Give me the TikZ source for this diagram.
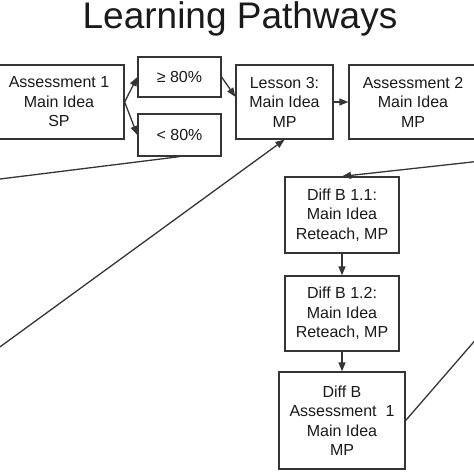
\documentclass[tikz,border=0pt]{standalone}
\usepackage{fontspec}
\setmainfont{Liberation Sans}
\usetikzlibrary{arrows.meta}
\definecolor{linegray}{HTML}{353535}
\definecolor{textgray}{HTML}{1A1A1A}
\begin{document}
\begin{tikzpicture}[x=1pt,y=-1pt,
  box/.style={draw=linegray, line width=1.3pt, fill=white, align=center, inner sep=0pt,
    text=textgray, font=\fontsize{16}{19.5}\selectfont},
  conn/.style={draw=linegray, line width=1.3pt},
  arr/.style={conn, -{Triangle[length=9pt,width=7pt]}}]
\useasboundingbox (0,0) rectangle (474,474);
\node[text=textgray, font=\fontsize{37}{40}\selectfont, anchor=base] (title) at (240,28) {Learning Pathways};
\node[box, minimum width=130pt, minimum height=74pt] (a1) at (59,102) {Assessment 1\\Main Idea\\SP};
\node[box, minimum width=83pt, minimum height=40pt] (ge) at (179.5,77) {≥ 80\%};
\node[box, minimum width=83pt, minimum height=42pt] (lt) at (179.5,135) {< 80\%};
\node[box, minimum width=97pt, minimum height=74pt] (l3) at (284.5,102) {Lesson 3:\\Main Idea\\MP};
\node[box, minimum width=128pt, minimum height=74pt] (a2) at (413,102) {Assessment 2\\Main Idea\\MP};
\node[box, minimum width=114pt, minimum height=76pt] (d11) at (342,215) {Diff B 1.1:\\Main Idea\\Reteach, MP};
\node[box, minimum width=114pt, minimum height=75pt] (d12) at (342,313.5) {Diff B 1.2:\\Main Idea\\Reteach, MP};
\node[box, minimum width=126pt, minimum height=97pt] (da) at (342,420.5) {Diff B\\Assessment~~1\\Main Idea\\MP};
\coordinate (offL1) at (-40,184);
\coordinate (offL2) at (-40,376);
\coordinate (offR1) at (514,157.4);
\coordinate (offR2) at (514,295.5);
\draw[arr] (a1.east) -- (ge.west);
\draw[arr] (a1.east) -- (lt.west);
\draw[arr] (ge.east) -- (l3.174);
\draw[arr] (l3.east) -- (a2.west);
\draw[conn] (lt.south) -- (offL1);
\draw[arr] (offL2) -- (l3.south);
\draw[arr] (offR1) -- (d11.north);
\draw[arr] (d11.south) -- (d12.north);
\draw[arr] (d12.south) -- (da.north);
\draw[conn] (da.east) -- (offR2);
\end{tikzpicture}
\end{document}
